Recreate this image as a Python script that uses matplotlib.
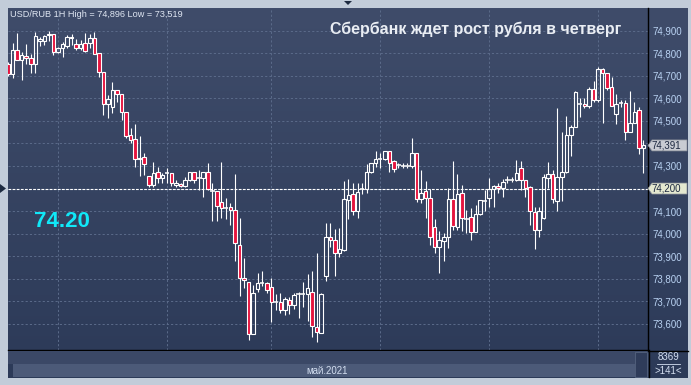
# USD/RUB 1H, свечи с подписями в стиле терминала
import numpy as np
import matplotlib.pyplot as plt
import matplotlib.transforms as mtransforms
from matplotlib.patches import Rectangle, Polygon
from matplotlib.colors import LinearSegmentedColormap
from matplotlib.ticker import FuncFormatter

opens = [74.752, 74.706, 74.814, 74.768, 74.786, 74.777, 74.750, 74.855, 74.855, 74.885,
         74.885, 74.806, 74.821, 74.833, 74.870, 74.840, 74.821, 74.843, 74.843, 74.866,
         74.799, 74.718, 74.573, 74.562, 74.636, 74.619, 74.538, 74.437, 74.419, 74.332,
         74.341, 74.255, 74.216, 74.274, 74.248, 74.270, 74.270, 74.216, 74.220, 74.211,
         74.238, 74.274, 74.245, 74.245, 74.272, 74.190, 74.189, 74.139, 74.112, 74.117,
         74.105, 73.948, 73.804, 73.784, 73.554, 73.753, 73.783, 73.783, 73.765, 73.698,
         73.696, 73.662, 73.706, 73.684, 73.731, 73.731, 73.731, 73.740, 73.585, 73.561,
         73.814, 73.984, 73.972, 73.913, 73.928, 74.149, 74.174, 74.100, 74.198, 74.198,
         74.272, 74.312, 74.331, 74.331, 74.366, 74.322, 74.304, 74.301, 74.301, 74.301,
         74.356, 74.152, 74.189, 74.157, 74.028, 73.940, 73.969, 73.984, 74.152, 74.031,
         74.179, 74.064, 74.072, 74.006, 74.086, 74.146, 74.159, 74.197, 74.212, 74.201,
         74.236, 74.236, 74.236, 74.290, 74.236, 74.205, 74.095, 74.015, 74.071, 74.248,
         74.264, 74.146, 74.252, 74.274, 74.437, 74.471, 74.574, 74.574, 74.567, 74.641,
         74.592, 74.730, 74.710, 74.648, 74.530, 74.578, 74.578, 74.452, 74.489, 74.548,
         74.378]
highs = [74.761, 74.846, 74.890, 74.806, 74.840, 74.796, 74.895, 74.873, 74.880, 74.896,
         74.886, 74.828, 74.850, 74.880, 74.883, 74.861, 74.858, 74.888, 74.885, 74.892,
         74.799, 74.718, 74.614, 74.673, 74.636, 74.619, 74.540, 74.469, 74.486, 74.433,
         74.356, 74.255, 74.319, 74.297, 74.267, 74.290, 74.270, 74.238, 74.223, 74.250,
         74.274, 74.274, 74.282, 74.274, 74.312, 74.226, 74.189, 74.316, 74.157, 74.137,
         74.264, 74.068, 73.891, 73.784, 73.773, 73.827, 73.834, 73.786, 73.802, 73.731,
         73.736, 73.721, 73.721, 73.736, 73.743, 73.784, 73.820, 73.834, 73.913, 73.737,
         74.046, 74.046, 74.021, 74.024, 74.233, 74.241, 74.223, 74.223, 74.223, 74.309,
         74.312, 74.366, 74.356, 74.366, 74.366, 74.326, 74.314, 74.312, 74.313, 74.424,
         74.356, 74.282, 74.233, 74.197, 74.064, 74.012, 74.004, 74.201, 74.322, 74.264,
         74.216, 74.105, 74.112, 74.127, 74.149, 74.193, 74.248, 74.216, 74.223, 74.242,
         74.255, 74.252, 74.326, 74.322, 74.236, 74.211, 74.119, 74.119, 74.264, 74.316,
         74.282, 74.558, 74.452, 74.521, 74.481, 74.632, 74.600, 74.600, 74.651, 74.676,
         74.737, 74.733, 74.710, 74.693, 74.617, 74.592, 74.592, 74.632, 74.585, 74.560,
         74.415]
lows = [74.699, 74.691, 74.768, 74.681, 74.750, 74.710, 74.713, 74.833, 74.836, 74.855,
        74.792, 74.799, 74.784, 74.821, 74.836, 74.814, 74.814, 74.806, 74.821, 74.795,
        74.695, 74.526, 74.514, 74.536, 74.585, 74.504, 74.422, 74.400, 74.297, 74.255,
        74.260, 74.208, 74.208, 74.223, 74.223, 74.223, 74.212, 74.208, 74.205, 74.205,
        74.233, 74.223, 74.193, 74.162, 74.193, 74.056, 74.056, 74.068, 74.064, 74.038,
        73.880, 73.725, 73.758, 73.529, 73.554, 73.743, 73.768, 73.736, 73.607, 73.662,
        73.650, 73.640, 73.643, 73.665, 73.625, 73.676, 73.614, 73.543, 73.519, 73.560,
        73.792, 73.942, 73.814, 73.898, 73.923, 74.064, 74.083, 74.068, 74.174, 74.179,
        74.267, 74.297, 74.292, 74.326, 74.274, 74.274, 74.292, 74.290, 74.292, 74.292,
        74.142, 74.134, 74.071, 73.950, 73.916, 73.827, 73.879, 73.935, 74.016, 74.016,
        74.013, 74.004, 73.972, 74.006, 74.083, 74.100, 74.119, 74.119, 74.181, 74.164,
        74.223, 74.228, 74.233, 74.193, 74.164, 74.038, 73.931, 73.986, 74.065, 74.201,
        74.134, 74.100, 74.146, 74.270, 74.345, 74.471, 74.518, 74.555, 74.558, 74.585,
        74.585, 74.490, 74.636, 74.567, 74.486, 74.562, 74.415, 74.452, 74.489, 74.353,
        74.267]
closes = [74.706, 74.814, 74.768, 74.792, 74.777, 74.750, 74.876, 74.861, 74.876, 74.882,
          74.806, 74.821, 74.840, 74.870, 74.868, 74.821, 74.840, 74.811, 74.866, 74.795,
          74.718, 74.573, 74.597, 74.636, 74.619, 74.538, 74.434, 74.415, 74.331, 74.337,
          74.307, 74.216, 74.270, 74.245, 74.260, 74.270, 74.223, 74.223, 74.211, 74.238,
          74.274, 74.238, 74.245, 74.272, 74.197, 74.190, 74.123, 74.112, 74.112, 74.105,
          73.957, 73.802, 73.795, 73.554, 73.736, 73.783, 73.783, 73.750, 73.698, 73.698,
          73.662, 73.709, 73.684, 73.728, 73.731, 73.731, 73.758, 73.590, 73.566, 73.731,
          73.984, 73.972, 73.913, 73.931, 74.152, 74.171, 74.102, 74.186, 74.198, 74.272,
          74.312, 74.331, 74.331, 74.366, 74.312, 74.285, 74.304, 74.301, 74.303, 74.356,
          74.152, 74.179, 74.159, 73.986, 73.942, 73.972, 73.984, 74.152, 74.035, 74.174,
          74.068, 74.064, 74.006, 74.086, 74.149, 74.146, 74.197, 74.212, 74.201, 74.228,
          74.236, 74.236, 74.267, 74.236, 74.204, 74.100, 74.015, 74.100, 74.250, 74.264,
          74.152, 74.252, 74.274, 74.437, 74.471, 74.626, 74.574, 74.567, 74.641, 74.592,
          74.730, 74.710, 74.647, 74.567, 74.573, 74.578, 74.452, 74.489, 74.538, 74.378,
          74.391]

day_labels = ["06", "07", "10", "11", "12", "13"]
day_pos = [11, 35, 58, 82, 106, 130]
price_ticks = [73.6, 73.7, 73.8, 73.9, 74.0, 74.1, 74.2, 74.3, 74.4, 74.5, 74.6, 74.7, 74.8, 74.9]
last_price = 74.391
level_price = 74.200

W, H = 691, 385
fig = plt.figure(figsize=(W / 100, H / 100), dpi=100, facecolor="#c2ccd9")


def fx(px):
    return px / W


def fy(py):
    return 1 - py / H


# фон панели с градиентом
bg = fig.add_axes([fx(8), fy(378), (688 - 8) / W, (378 - 8) / H])
bg.axis("off")
cmap = LinearSegmentedColormap.from_list("bg", ["#3f4c6a", "#2c3a58"])
bg.imshow(np.linspace(0, 1, 256)[:, None], aspect="auto", cmap=cmap, extent=[0, 1, 0, 1])
bg.set_xlim(0, 1)
bg.set_ylim(0, 1)

# нижние полосы шкалы времени
fig.patches.append(Rectangle((fx(8), fy(364)), (648 - 8) / W, 13 / H, transform=fig.transFigure,
                             facecolor="#3b4866", edgecolor="none"))
fig.patches.append(Rectangle((fx(13), fy(377)), (635 - 13) / W, 13 / H, transform=fig.transFigure,
                             facecolor="#4c5a78", edgecolor="none"))
fig.patches.append(Rectangle((fx(635), fy(377)), 12 / W, 25 / H, transform=fig.transFigure,
                             facecolor="#2f3c5a", edgecolor="#55637f", linewidth=0.6))

ax = fig.add_axes([fx(8), fy(350), (648 - 8) / W, (350 - 8) / H])
ax.set_facecolor("none")
ax.set_xlim(-0.02, 141.0)
ax.set_ylim(73.4845, 75.0)

red = "#e5143e"
bw = 0.78
for i in range(len(opens)):
    o, h, l, c = opens[i], highs[i], lows[i], closes[i]
    top, bot = max(o, c), min(o, c)
    if h > top:
        ax.vlines(i, top, h, color="white", linewidth=0.8, zorder=3)
    if l < bot:
        ax.vlines(i, l, bot, color="white", linewidth=0.8, zorder=3)
    if abs(o - c) < 0.002:
        ax.hlines(o, i - bw / 2 - 0.1, i + bw / 2 + 0.1, color="white", linewidth=1.1, zorder=4)
    else:
        fc = red if c < o else "none"
        ax.add_patch(Rectangle((i - bw / 2, bot), bw, top - bot, facecolor=fc,
                               edgecolor="white", linewidth=0.8, zorder=4))

ax.set_yticks(price_ticks)
ax.yaxis.set_major_formatter(FuncFormatter(
    lambda v, p: "" if round(v, 1) in (74.2, 74.4) else f"{v:.3f}".replace(".", ",")))
ax.yaxis.tick_right()
ax.set_xticks(day_pos)
ax.set_xticklabels(day_labels)
ax.tick_params(axis="y", length=0, pad=3, labelsize=7, labelcolor="#b9d2f2")
ax.tick_params(axis="x", length=0, pad=2.2, labelsize=7, labelcolor="#d3def0")
for lab in ax.get_yticklabels() + ax.get_xticklabels():
    lab.set_family("Liberation Sans")
ax.grid(True, color="#5b6b8a", linestyle=(0, (2.2, 2.2)), linewidth=0.7)
for s in ["top", "left"]:
    ax.spines[s].set_visible(False)
ax.spines["right"].set_color("black")
ax.spines["bottom"].set_color("black")
ax.spines["right"].set_linewidth(1.0)
ax.spines["bottom"].set_linewidth(1.0)
ax.axhline(level_price, color="white", linestyle=(0, (2.5, 1.2)), linewidth=0.8, zorder=2)

# продолжение разделительных линий
fig.add_artist(plt.Line2D([fx(648), fx(688)], [fy(350.5), fy(350.5)], color="black", linewidth=1.0))
fig.add_artist(plt.Line2D([fx(648.5), fx(648.5)], [fy(350), fy(377)], color="black", linewidth=1.0))

# метки цены справа
tr = mtransforms.blended_transform_factory(fig.transFigure, ax.transData)
hh = 5.5 * (75.0 - 73.4845) / 342
for price, col in [(last_price, "#c9ccd3"), (level_price, "#e4e8d0")]:
    pts = [(fx(648), price), (fx(652), price + hh), (fx(687), price + hh),
           (fx(687), price - hh), (fx(652), price - hh)]
    ax.add_patch(Polygon(pts, closed=True, transform=tr, facecolor=col, edgecolor="#8a8f98",
                         linewidth=0.5, clip_on=False, zorder=6))
    ax.text(fx(651.5), price, f"{price:.3f}".replace(".", ","), transform=tr, va="center", ha="left",
            fontsize=7, family="Liberation Sans", color="#1c2840", clip_on=False, zorder=7)

# тексты
fig.text(fx(10), fy(14.5), "USD/RUB 1H High = 74,896 Low = 73,519", fontsize=6.6, va="center",
         family="Liberation Sans", color="#dfe6f2")
fig.text(fx(330), fy(29), "Сбербанк ждет рост рубля в четверг", fontsize=11.5, va="center",
         family="Liberation Sans", fontweight="bold", color="#e9edf3")
fig.text(fx(34), fy(221.5), "74.20", fontsize=16, va="center", family="Liberation Sans",
         fontweight="bold", color="#10e8f8")
fig.text(fx(327), fy(370.5), "май.2021", fontsize=7, va="center", ha="center",
         family="Liberation Sans", color="#d3def0")
fig.text(fx(668), fy(357), "8369", fontsize=7, va="center", ha="center",
         family="Liberation Sans", color="#d3def0")
fig.add_artist(plt.Line2D([fx(657), fx(680)], [fy(363.5), fy(363.5)], color="#d3def0", linewidth=0.6))
fig.text(fx(668), fy(370.5), ">141<", fontsize=7, va="center", ha="center",
         family="Liberation Sans", color="#d3def0")

# маркеры на рамке
fig.patches.append(Polygon([(fx(0), fy(184)), (fx(6), fy(188.5)), (fx(0), fy(193))],
                           closed=True, transform=fig.transFigure, facecolor="#1d2a40"))
fig.patches.append(Polygon([(fx(344), fy(1)), (fx(352), fy(1)), (fx(348), fy(5))],
                           closed=True, transform=fig.transFigure, facecolor="#1d2a40"))

fig.savefig("out.png", dpi=100, facecolor=fig.get_facecolor())
